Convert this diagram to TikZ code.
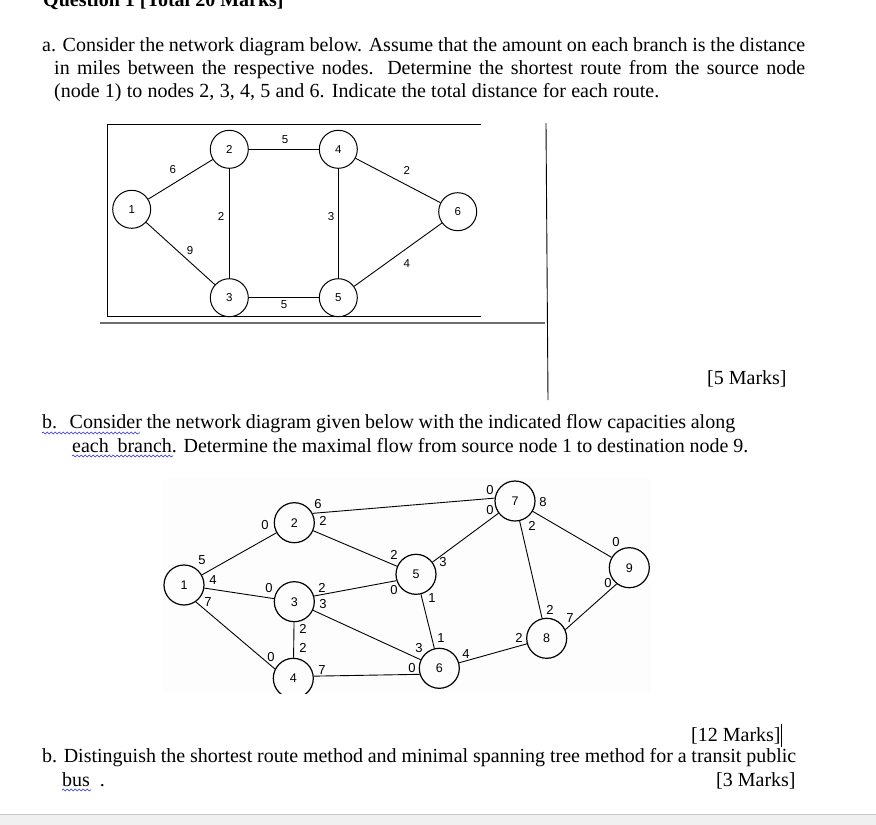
\documentclass[tikz,border=0pt]{standalone}
\usepackage{fontspec}
\setmainfont{Liberation Serif}
\newfontfamily\diagfont{Liberation Sans}
\usepackage{tikz}
\usepackage{xcolor}
\usetikzlibrary{decorations.pathmorphing}
\definecolor{spellblue}{HTML}{2B2BE0}
\definecolor{rulegray}{HTML}{6E6E6E}
\definecolor{bandgray}{HTML}{F0F0F0}
\definecolor{bandline}{HTML}{C8C8C8}
\definecolor{picwhite}{HTML}{FDFDFD}
\newcommand{\jline}[2]{\makebox[#1pt][s]{#2}}

\begin{document}
\begin{tikzpicture}[x=1pt,y=-1pt,
  para/.style={anchor=base west,inner sep=0pt,font=\fontsize{20}{23}\selectfont},
  anode/.style={circle,draw,line width=1pt,minimum size=38pt,inner sep=0pt,font=\diagfont\fontsize{11.5}{12}\selectfont},
  bnode/.style={circle,draw,line width=1.2pt,minimum size=40pt,inner sep=0pt,font=\diagfont\fontsize{12.5}{13}\selectfont},
  link/.style={line width=0.9pt},
  aw/.style={inner sep=0pt,font=\diagfont\fontsize{11.5}{12}\selectfont},
  bw/.style={inner sep=0pt,font=\diagfont\fontsize{13}{14}\selectfont},
  squiggle/.style={spellblue,line width=0.6pt,decorate,decoration={snake,amplitude=0.9pt,segment length=4pt}}]
\useasboundingbox (0,0) rectangle (876,825);
\fill[white] (0,0) rectangle (876,825);
\fill[bandgray] (0,814) rectangle (876,825);
\draw[bandline] (0,814) -- (876,814);

\node[para,font=\bfseries\fontsize{20}{23}\selectfont] (title) at (43,6) {Question 1 [Total 20 Marks]};
\node[para] (qa1) at (42,51) {\jline{763}{a. Consider the network diagram below. Assume that the amount on each branch is the distance}};
\node[para] (qa2) at (54,74) {\jline{751}{in miles between the respective nodes. Determine the shortest route from the source node}};
\node[para] (qa3) at (54,97) {\jline{605}{(node 1) to nodes 2, 3, 4, 5 and 6. Indicate the total distance for each route.}};

\draw[line width=0.8pt] (481,124) -- (107,124) -- (107,316) -- (481,316);
\draw[rulegray,line width=1.2pt] (100,323) -- (545,323);
\draw[line width=0.9pt] (546,123) -- (548,400);
\foreach \n/\x/\y in {1/131.7/209.3,2/229.3/149.3,3/229.3/297.7,4/338.3/149.3,5/338.3/297.7,6/457.7/211.7}
  \node[anode] (a\n) at (\x,\y) {\n};
\foreach \p/\q in {1/2,1/3,2/3,2/4,3/5,4/5,4/6,5/6}
  \draw[link] (a\p) -- (a\q);
\foreach \t/\x/\y [count=\k] in {6/172.7/170,9/190/251,2/221/216.7,5/285/140,5/284/304.3,3/331/216.7,2/406.7/170,4/406.7/263.3}
  \node[aw] (aw\k) at (\x,\y) {\t};

\node[para] (marka) at (707,384) {[5 Marks]};
\node[para] (qb1) at (42,428) {\jline{693}{b.\hspace{6pt} Consider the network diagram given below with the indicated flow capacities along}};
\node[para] (qb2) at (72,452) {\jline{676}{each\hspace{4pt} branch. Determine the maximal flow from source node 1 to destination node 9.}};
\draw[squiggle] (42,433) -- (140,433);
\draw[squiggle] (72,456) -- (173,456);

\begin{scope}
\clip (163,478) rectangle (651,693);
\fill[picwhite] (163,478) rectangle (651,693);
\foreach \n/\x/\y in {1/184/585,2/294.3/522.7,3/294.3/601.7,4/293.3/678.3,5/416/574.3,6/439.3/668.3,7/515/501,8/546.7/638.3,9/629.3/567.7}
  \node[bnode] (b\n) at (\x,\y) {\n};
\draw[link] (b2.27) -- (b7.172);
\draw[link] (b1.-55) -- (b4.153);
\draw[link] (b3.16) -- (b5.198);
\draw[link] (b4.6) -- (b6.197);
\draw[link] (b8.25) -- (b9.232);
\foreach \p/\q in {1/2,1/3,2/5,3/6,3/4,5/7,5/6,7/9,7/8,6/8}
  \draw[link] (b\p) -- (b\q);
\foreach \t/\x/\y [count=\k] in {5/202/560,0/265/525,4/213/580,0/269/588,7/208/602,0/271/657,6/318/504,0/490/490,2/323/521,2/394/555,2/322/588,0/394/590,3/323/604,3/419/648,2/303/629,2/303/648,7/322/670,0/412/668,3/443/562,0/490/510,1/432/598,1/441/638,8/543/502,0/616/542,2/532/526,2/550/610,4/466/654,2/519/638,7/570/618,0/608/583}
  \node[bw] (bw\k) at (\x,\y) {\t};
\end{scope}

\node[para] (markb) at (691,741) {[12 Marks]};
\draw[line width=0.7pt] (781,724) -- (781,747);
\node[para] (qc1) at (42,762) {\jline{754}{b. Distinguish the shortest route method and minimal spanning tree method for a transit public}};
\node[para] (qc2) at (62,786) {bus\hspace{10pt}.};
\draw[squiggle] (62,790) -- (91,790);
\node[para] (markc) at (716,786) {[3 Marks]};
\end{tikzpicture}
\end{document}
